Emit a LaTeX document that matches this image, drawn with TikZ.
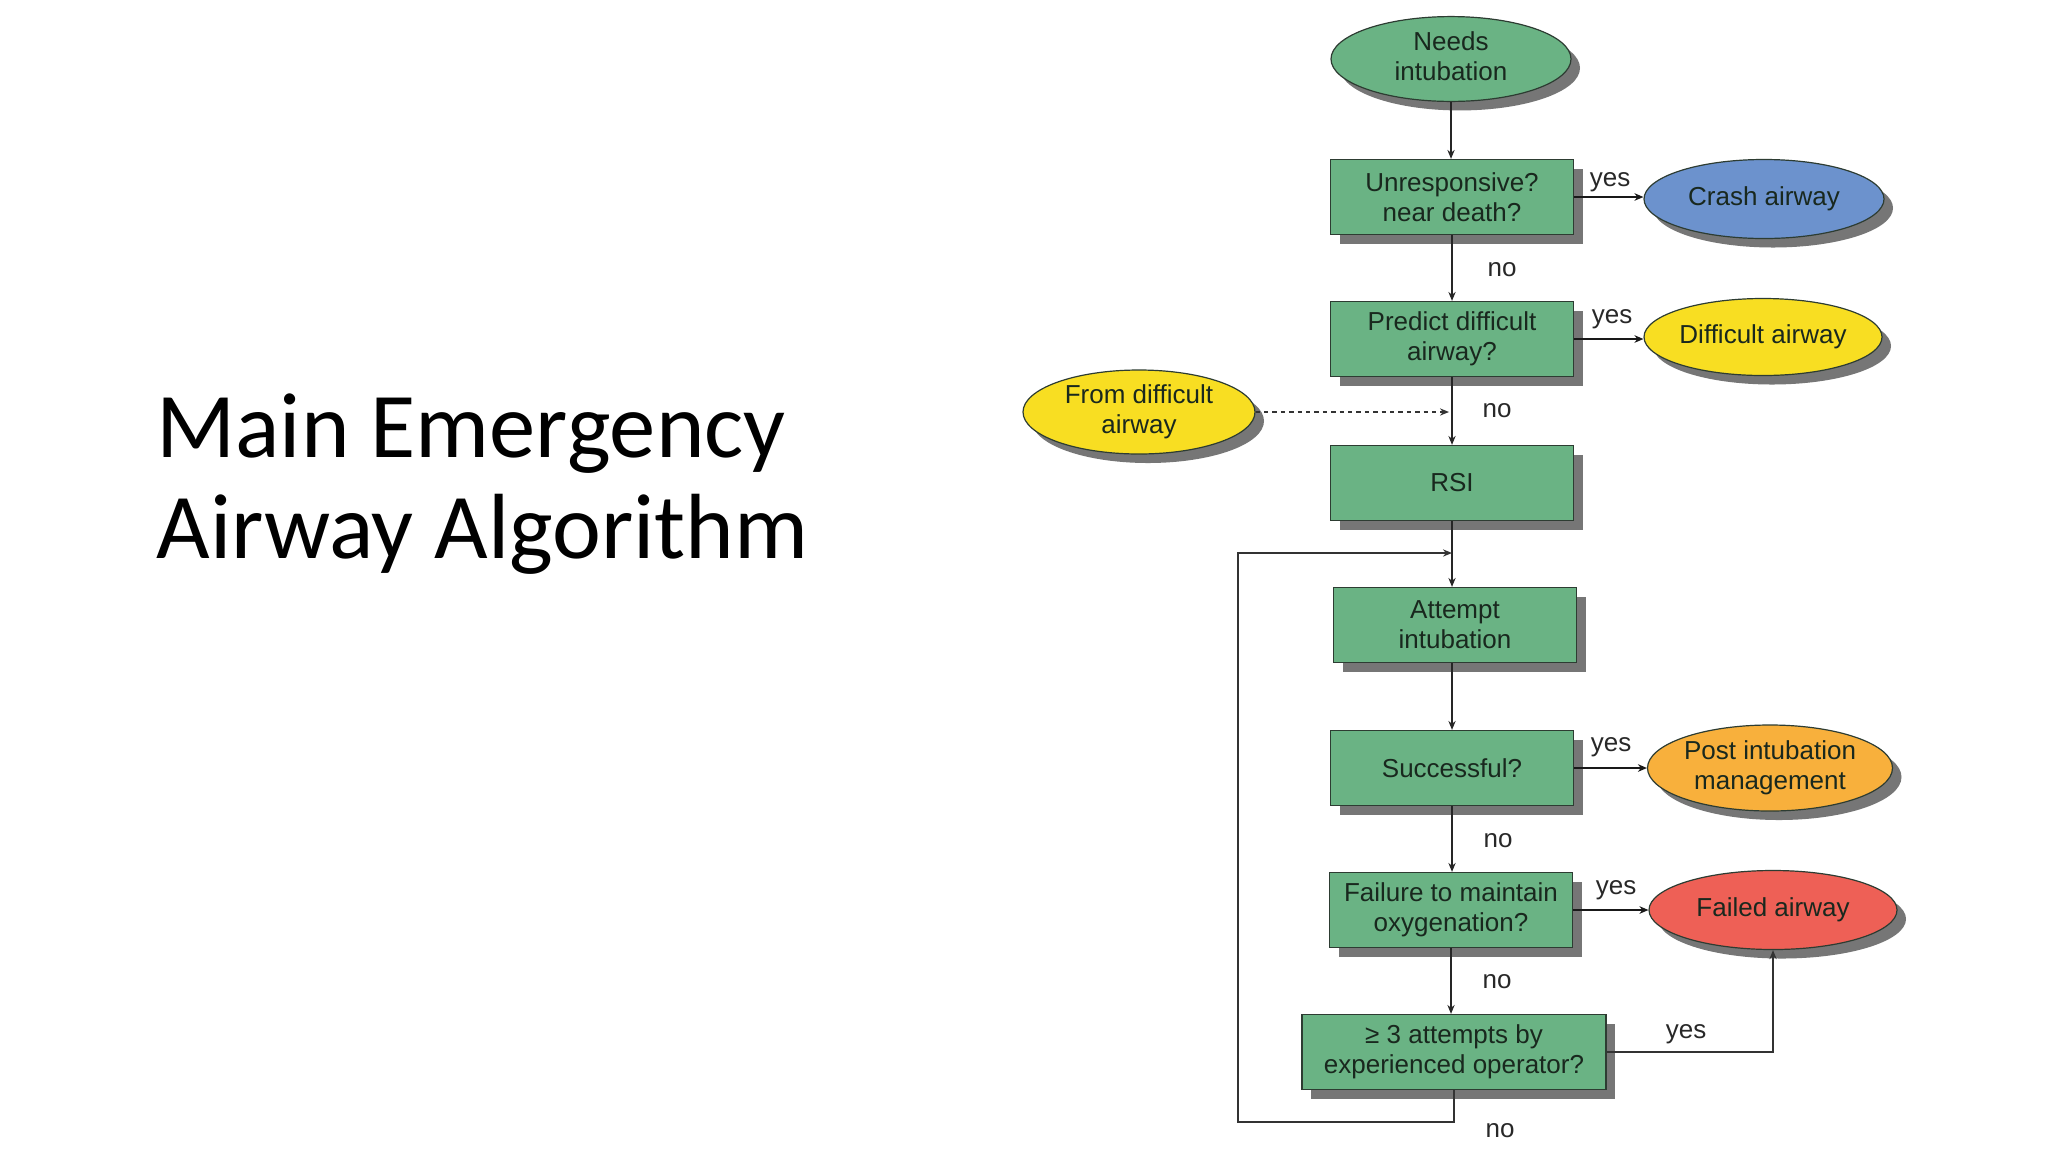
\documentclass[tikz,border=0pt]{standalone}
\usepackage{fontspec}
\setmainfont{Liberation Sans}
\newfontfamily\titlefont{Carlito}
\usetikzlibrary{shapes.geometric,shadows,arrows.meta}
\definecolor{boxgreen}{RGB}{106,179,132}
\definecolor{crashblue}{RGB}{108,146,205}
\definecolor{diffyellow}{RGB}{248,222,34}
\definecolor{postorange}{RGB}{248,176,60}
\definecolor{failred}{RGB}{238,96,86}
\definecolor{shadowgray}{RGB}{118,118,118}
\definecolor{edgecol}{RGB}{45,60,50}
\definecolor{txt}{RGB}{25,40,30}
\definecolor{lbl}{RGB}{40,40,40}
\begin{document}
\begin{tikzpicture}[x=0.5pt,y=-0.5pt,
  diag/.style={font=\fontsize{13pt}{15pt}\selectfont, text=txt, align=center, inner sep=0pt},
  shad/.style={drop shadow={shadow xshift=4.5pt, shadow yshift=-4.5pt, fill=shadowgray, opacity=1}},
  stepbox/.style={diag, rectangle, draw=edgecol, line width=0.6pt, fill=boxgreen, minimum width=121.5pt, minimum height=37.5pt, shad},
  oval/.style={diag, ellipse, draw=edgecol, line width=0.6pt, shad},
  lab/.style={font=\fontsize{13pt}{15pt}\selectfont, text=lbl, inner sep=0pt},
  arr/.style={draw=black!85, line width=0.6pt, -{Stealth[length=4.5pt,width=3.6pt]}},
  yarr/.style={draw=black!90, line width=1pt, -{Stealth[length=4.5pt,width=3.8pt]}},
  plain/.style={draw=black!80, line width=0.7pt},
  titletext/.style={anchor=base west, inner sep=0pt, font=\titlefont\fontsize{46.3pt}{51pt}\selectfont}
]
\useasboundingbox (0,0) rectangle (2048,1152);
\fill[white] (0,0) rectangle (2048,1152);

% title
\node[titletext] (t1) at (156,457) {Main Emergency};
\node[titletext] (t2) at (156,558) {Airway Algorithm};

% nodes
\node[oval, fill=boxgreen, minimum width=120pt, minimum height=39pt] (need) at (1451,59) {\raisebox{2.5pt}{\begin{tabular}{@{}c@{}}Needs\\intubation\end{tabular}}};
\node[stepbox] (unr) at (1452,197) {Unresponsive?\\near death?};
\node[oval, fill=crashblue, minimum width=120pt, minimum height=39.5pt] (crash) at (1764,199) {Crash airway};
\node[stepbox] (pred) at (1452,339) {Predict difficult\\airway?};
\node[oval, fill=diffyellow, minimum width=119pt, minimum height=38.5pt] (diff) at (1763,337) {Difficult airway};
\node[oval, fill=diffyellow, minimum width=116pt, minimum height=42pt] (from) at (1139,412) {From difficult\\airway};
\node[stepbox] (rsi) at (1452,483) {RSI};
\node[stepbox] (att) at (1455,625) {Attempt\\intubation};
\node[stepbox] (succ) at (1452,768) {Successful?};
\node[oval, fill=postorange, minimum width=122.5pt, minimum height=43pt] (post) at (1770,768) {Post intubation\\management};
\node[stepbox] (fail) at (1451,910) {Failure to maintain\\oxygenation?};
\node[oval, fill=failred, minimum width=124pt, minimum height=39.5pt] (failed) at (1773,910) {Failed airway};
\node[stepbox, minimum width=152pt] (ge3) at (1454,1052) {≥ 3 attempts by\\experienced operator?};

% labels
\node[lab] (y1) at (1610,182) {yes};
\node[lab] (y2) at (1612,319) {yes};
\node[lab] (y3) at (1611,747) {yes};
\node[lab] (y4) at (1616,890) {yes};
\node[lab] (y5) at (1686,1034) {yes};
\node[lab] (n1) at (1502,270) {no};
\node[lab] (n2) at (1497,411) {no};
\node[lab] (n3) at (1498,841) {no};
\node[lab] (n4) at (1497,982) {no};
\node[lab] (n5) at (1500,1131) {no};

% coordinates for the loop
\coordinate (loopBL) at (1238,1122);
\coordinate (loopTL) at (1238,553);
\coordinate (join) at (1452,553);

% vertical connectors
\draw[arr] (need.south) -- (need.south |- unr.north);
\draw[arr] (unr.south) -- (unr.south |- pred.north);
\draw[arr] (pred.south) -- (pred.south |- rsi.north);
\draw[arr] (rsi.south) -- (rsi.south |- att.north);
\draw[arr] (succ.north |- att.south) -- (succ.north);
\draw[arr] (succ.south) -- (succ.south |- fail.north);
\draw[arr] (fail.south) -- (fail.south |- ge3.north);

% yes connectors
\draw[yarr] (unr.east) -- (unr.east -| crash.west);
\draw[yarr] (pred.east) -- (pred.east -| diff.west);
\draw[yarr] (succ.east) -- (succ.east -| post.west);
\draw[yarr] (fail.east) -- (fail.east -| failed.west);
\draw[plain, -{Stealth[length=4.5pt,width=3.6pt]}] (ge3.east) -| (failed.south);

% dashed from difficult airway
\draw[draw=black!80, line width=0.7pt, dash pattern=on 2.2pt off 2pt, -{Stealth[length=4.5pt,width=3.6pt]}, shorten >=1.5pt] (from.east) -- (from.east -| rsi.north);

% no loop
\draw[plain, -{Stealth[length=4.5pt,width=3.6pt]}] (ge3.south) |- (loopBL) -- (loopTL) -- (join);
\end{tikzpicture}
\end{document}
